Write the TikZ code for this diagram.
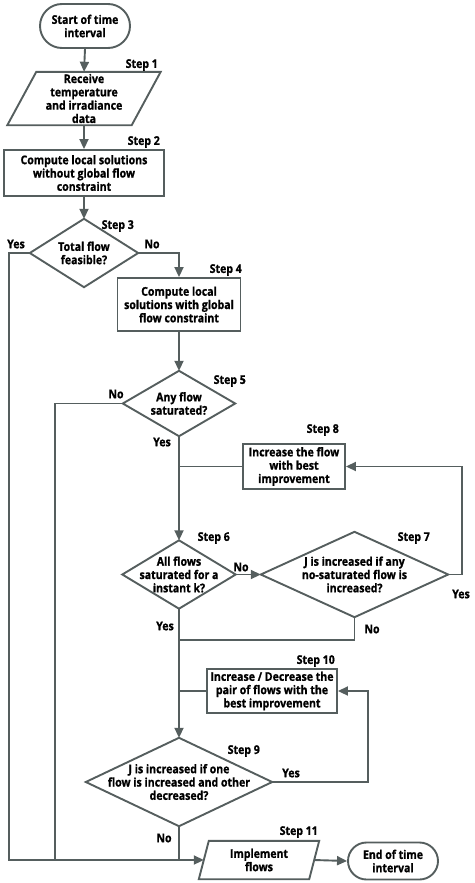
\documentclass[tikz,border=0pt]{standalone}
\usepackage{fontspec}
\setmainfont{Open Sans}[FakeStretch=0.88, BoldFeatures={FakeBold=1}]
\usetikzlibrary{arrows.meta,shapes.misc,calc}
\definecolor{ln}{RGB}{85,94,94}
\begin{document}
\begin{tikzpicture}[x=1pt,y=-1pt,
  every node/.style={font=\fontsize{12}{13.3}\selectfont\bfseries, align=center, inner sep=0pt},
  line/.style={draw=ln, line width=1.9pt},
  arr/.style={line, -{Triangle[length=10pt,width=9pt]}},
  procbox/.style={draw=ln, line width=1.9pt, rectangle},
  term/.style={draw=ln, line width=1.9pt, rounded rectangle},
  dia/.style={rectangle},
  para/.style={rectangle},
  steplbl/.style={anchor=east}
]
\useasboundingbox (0,0) rectangle (474,883);

% nodes
\node[term, minimum width=90pt, minimum height=44pt] (start) at (85,26) {Start of time\\interval};
\node[para, minimum width=124pt, minimum height=53pt] (p1) at (84,98.5) {Receive\\temperature\\and irradiance\\data};
\draw[line] ($(p1.south west)+(-14.5,0)$) -- ($(p1.north west)+(14.5,0)$) -- ($(p1.north east)+(14.5,0)$) -- ($(p1.south east)+(-14.5,0)$) -- cycle;
\node[procbox, minimum width=160pt, minimum height=46pt] (r2) at (84,173) {Compute local solutions\\without global flow\\constraint};
\node[dia, minimum width=108pt, minimum height=68pt] (d3) at (84,253) {Total flow\\feasible?};
\draw[line] (d3.north) -- (d3.east) -- (d3.south) -- (d3.west) -- cycle;
\node[procbox, minimum width=123pt, minimum height=53pt] (r4) at (179,304.5) {Compute local\\solutions with global\\flow constraint};
\node[dia, minimum width=112pt, minimum height=65pt] (d5) at (179,403.5) {Any flow\\saturated?};
\draw[line] (d5.north) -- (d5.east) -- (d5.south) -- (d5.west) -- cycle;
\node[procbox, minimum width=102pt, minimum height=45pt] (r8) at (294,466.5) {Increase the flow\\with best\\improvement};
\node[dia, minimum width=113pt, minimum height=68pt] (d6) at (179,574.5) {All flows\\saturated for a\\instant k?};
\draw[line] (d6.north) -- (d6.east) -- (d6.south) -- (d6.west) -- cycle;
\node[dia, minimum width=187pt, minimum height=85pt] (d7) at (354.5,574.5) {J is increased if any\\no-saturated flow is\\increased?};
\draw[line] (d7.north) -- (d7.east) -- (d7.south) -- (d7.west) -- cycle;
\node[procbox, minimum width=130pt, minimum height=44pt] (r10) at (272,691) {Increase / Decrease the\\pair of flows with the\\best improvement};
\node[dia, minimum width=186pt, minimum height=88pt] (d9) at (179,782) {J is increased if one\\flow is increased and other\\decreased?};
\draw[line] (d9.north) -- (d9.east) -- (d9.south) -- (d9.west) -- cycle;
\node[para, minimum width=110pt, minimum height=38pt] (p11) at (259,860) {Implement\\flows};
\draw[line] ($(p11.south west)+(-5,0)$) -- ($(p11.north west)+(5,0)$) -- ($(p11.north east)+(5,0)$) -- ($(p11.south east)+(-5,0)$) -- cycle;
\node[term, minimum width=90pt, minimum height=37pt] (endt) at (393,861) {End of time\\interval};

% step labels
\node[steplbl] (s1) at (158,65) {Step 1};
\node[steplbl] (s2) at (160,142) {Step 2};
\node[steplbl] (s3) at (134,226) {Step 3};
\node[steplbl] (s4) at (242,270) {Step 4};
\node[steplbl] (s5) at (246,381) {Step 5};
\node[steplbl] (s8) at (339,430) {Step 8};
\node[steplbl] (s6) at (230,538) {Step 6};
\node[steplbl] (s7) at (430,538) {Step 7};
\node[steplbl] (s10) at (335,661) {Step 10};
\node[steplbl] (s9) at (260,751) {Step 9};
\node[steplbl] (s11) at (318,832) {Step 11};

% yes / no labels
\node (y3) at (16,244) {Yes};
\node (n3) at (152,244) {No};
\node (n5) at (116,394) {No};
\node (y5) at (162,442) {Yes};
\node (n6) at (241,567) {No};
\node (y6) at (165,626) {Yes};
\node (y7) at (461,594) {Yes};
\node (n7) at (372,629) {No};
\node (y9) at (291,773) {Yes};
\node (n9) at (164,838) {No};

% helper coordinates
\coordinate (cL) at (9,860);
\coordinate (cM) at (55,860);
\coordinate (c7) at (462,466.5);
\coordinate (c6) at (179,640);
\coordinate (c9) at (368,691);

% connectors
\draw[arr] (start.south) -- (p1.north);
\draw[arr] (p1.south) -- (r2.north);
\draw[arr] (r2.south) -- (d3.north);
\draw[arr] (d3.west) -| (cL) -- (p11.west);
\draw[line] (d5.west) -| (cM);
\draw[arr] (d3.east) -| (r4.north);
\draw[arr] (r4.south) -- (d5.north);
\draw[arr] (d5.south) -- (d6.north);
\draw[line] (r8.west) -- (r8.west -| d5.south);
\draw[arr] (d6.east) -- (d7.west);
\draw[arr] (d7.east) -| (c7) -- (r8.east);
\draw[line] (d7.south) |- (c6);
\draw[arr] (d6.south) -- (d9.north);
\draw[line] (r10.west) -- (r10.west -| d9.north);
\draw[arr] (d9.east) -| (c9) -- (r10.east);
\draw[line] (d9.south) -- (d9.south |- p11.west);
\draw[arr] (p11.east) -- (endt.west);
\end{tikzpicture}
\end{document}
